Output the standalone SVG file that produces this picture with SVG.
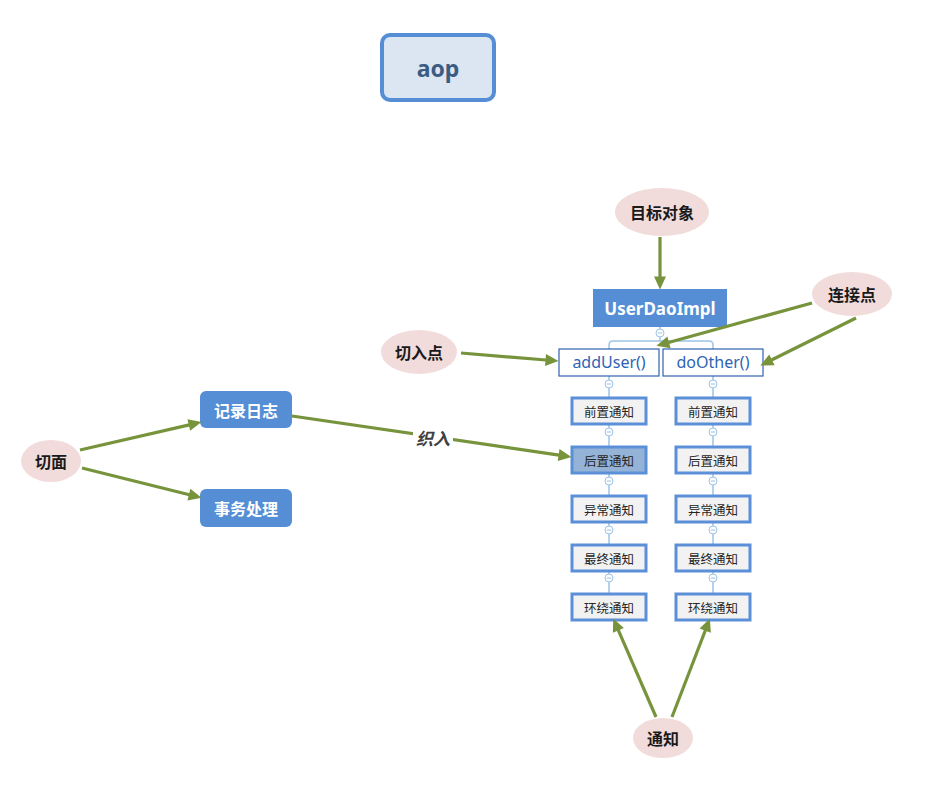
<svg xmlns="http://www.w3.org/2000/svg" width="928" height="808" viewBox="0 0 928 808">
<style>
.ell{fill:#f2dcdb;stroke:none}
.etx{font-family:"Noto Sans CJK SC","Noto Sans",sans-serif;font-size:16px;font-weight:bold;fill:#1a1a1a;text-anchor:middle;dominant-baseline:central}
.blue{fill:#558ed5}
.wtx{font-family:"Noto Sans CJK SC","Noto Sans",sans-serif;font-size:16px;font-weight:bold;fill:#ffffff;text-anchor:middle;dominant-baseline:central}
.meth{fill:#ffffff;stroke:#2f63b0;stroke-width:1.2}
.mtx{font-family:"Noto Sans","Open Sans",sans-serif;font-size:16px;fill:#2e64b5;text-anchor:middle;dominant-baseline:central}
.adv{fill:#f2f2f2;stroke:#5b8fd8;stroke-width:3}
.atx{font-family:"Noto Sans CJK SC","Noto Sans",sans-serif;font-size:12.5px;fill:#262626;text-anchor:middle;dominant-baseline:central}
.tree{fill:none;stroke:#9dc3e6;stroke-width:1.5}
.knob{fill:#ffffff;stroke:#9dc3e6;stroke-width:1}
.arr{fill:none;stroke:#77933c;stroke-width:3.2;marker-end:url(#ah)}
</style>
<defs>
<marker id="ah" markerUnits="userSpaceOnUse" viewBox="0 0 13 12" markerWidth="13" markerHeight="12" refX="0.5" refY="6" orient="auto" overflow="visible">
<path d="M0,0 L13,6 L0,12 z" fill="#77933c"/>
</marker>
<g id="knob"><circle cx="0" cy="0" r="4" class="knob"/><line x1="-2.2" y1="0" x2="2.2" y2="0" stroke="#9dc3e6" stroke-width="1"/></g>
</defs>
<rect width="928" height="808" fill="#ffffff"/>

<g id="aop">
<rect x="382" y="35" width="112" height="65" rx="8" fill="#dce6f2" stroke="#558ed5" stroke-width="4"/>
<text x="438" y="68" style="font-family:'Noto Sans','Open Sans',sans-serif;font-size:23px;font-weight:bold;fill:#3a5b82;text-anchor:middle;dominant-baseline:central">aop</text>
</g>

<g id="tree-lines">
<path class="tree" d="M660,327 V341 M609,349 V345 Q609,341 613,341 H709 Q713,341 713,345 V349"/>
<path class="tree" d="M609,376 V398 M609,424 V447 M609,473 V496 M609,522 V544 M609,571 V593"/>
<path class="tree" d="M713,376 V398 M713,424 V447 M713,473 V496 M713,522 V544 M713,571 V593"/>
<use href="#knob" x="660" y="333"/>
<use href="#knob" x="609" y="384"/><use href="#knob" x="609" y="432"/><use href="#knob" x="609" y="481"/><use href="#knob" x="609" y="530"/><use href="#knob" x="609" y="578"/>
<use href="#knob" x="713" y="384"/><use href="#knob" x="713" y="432"/><use href="#knob" x="713" y="481"/><use href="#knob" x="713" y="530"/><use href="#knob" x="713" y="578"/>
</g>

<g id="target">
<ellipse class="ell" cx="662" cy="212" rx="47" ry="24"/>
<text class="etx" x="662" y="212">目标对象</text>
</g>

<g id="userdaoimpl">
<rect class="blue" x="593" y="289" width="134" height="38"/>
<text class="wtx" x="660" y="308" style="font-family:'Noto Sans','Open Sans',sans-serif;font-size:17px">UserDaoImpl</text>
</g>

<g id="addUser">
<rect class="meth" x="559" y="349" width="100" height="27"/>
<text class="mtx" x="609" y="362">addUser()</text>
</g>
<g id="doOther">
<rect class="meth" x="663" y="349" width="100" height="27"/>
<text class="mtx" x="713" y="362">doOther()</text>
</g>

<g id="advice-left">
<rect class="adv" x="572" y="398" width="74" height="26"/><text class="atx" x="609" y="411">前置通知</text>
<rect class="adv" x="572" y="447" width="74" height="26" style="fill:#95b3d7"/><text class="atx" x="609" y="460">后置通知</text>
<rect class="adv" x="572" y="496" width="74" height="26"/><text class="atx" x="609" y="509">异常通知</text>
<rect class="adv" x="572" y="545" width="74" height="26"/><text class="atx" x="609" y="558">最终通知</text>
<rect class="adv" x="572" y="594" width="74" height="26"/><text class="atx" x="609" y="607">环绕通知</text>
</g>
<g id="advice-right">
<rect class="adv" x="676" y="398" width="74" height="26"/><text class="atx" x="713" y="411">前置通知</text>
<rect class="adv" x="676" y="447" width="74" height="26"/><text class="atx" x="713" y="460">后置通知</text>
<rect class="adv" x="676" y="496" width="74" height="26"/><text class="atx" x="713" y="509">异常通知</text>
<rect class="adv" x="676" y="545" width="74" height="26"/><text class="atx" x="713" y="558">最终通知</text>
<rect class="adv" x="676" y="594" width="74" height="26"/><text class="atx" x="713" y="607">环绕通知</text>
</g>

<g id="pointcut">
<ellipse class="ell" cx="419" cy="352" rx="38" ry="22"/>
<text class="etx" x="419" y="352">切入点</text>
</g>
<g id="joinpoint">
<ellipse class="ell" cx="852" cy="294" rx="40" ry="22"/>
<text class="etx" x="852" y="294">连接点</text>
</g>
<g id="aspect">
<ellipse class="ell" cx="51" cy="461" rx="30" ry="21"/>
<text class="etx" x="51" y="461">切面</text>
</g>
<g id="log">
<rect class="blue" x="200" y="391" width="92" height="37" rx="6"/>
<text class="wtx" x="246" y="409.5">记录日志</text>
</g>
<g id="tx">
<rect class="blue" x="200" y="489" width="92" height="38" rx="6"/>
<text class="wtx" x="246" y="508">事务处理</text>
</g>
<g id="advice">
<ellipse class="ell" cx="663" cy="738" rx="30" ry="20"/>
<text class="etx" x="663" y="738">通知</text>
</g>

<g id="connectors">
<line class="arr" x1="660" y1="237" x2="660" y2="277"/>
<line class="arr" x1="812" y1="303" x2="668.5" y2="342.5"/>
<line class="arr" x1="856" y1="318" x2="771.5" y2="360"/>
<line class="arr" x1="461" y1="353" x2="546" y2="360"/>
<line class="arr" x1="80" y1="450" x2="189.3" y2="424.9"/>
<line class="arr" x1="82" y1="468" x2="189.4" y2="494.8"/>
<line class="arr" x1="292" y1="416" x2="559.1" y2="455.1"/>
<line class="arr" x1="656" y1="717" x2="618.2" y2="629.9"/>
<line class="arr" x1="672" y1="717" x2="705.4" y2="630.2"/>
<rect x="413" y="426" width="40" height="22" fill="#ffffff"/>
<text x="433" y="437" style="font-family:'Noto Sans CJK SC','Noto Sans',sans-serif;font-size:17px;font-weight:bold;font-style:italic;fill:#404040;text-anchor:middle;dominant-baseline:central">织入</text>
</g>
</svg>
